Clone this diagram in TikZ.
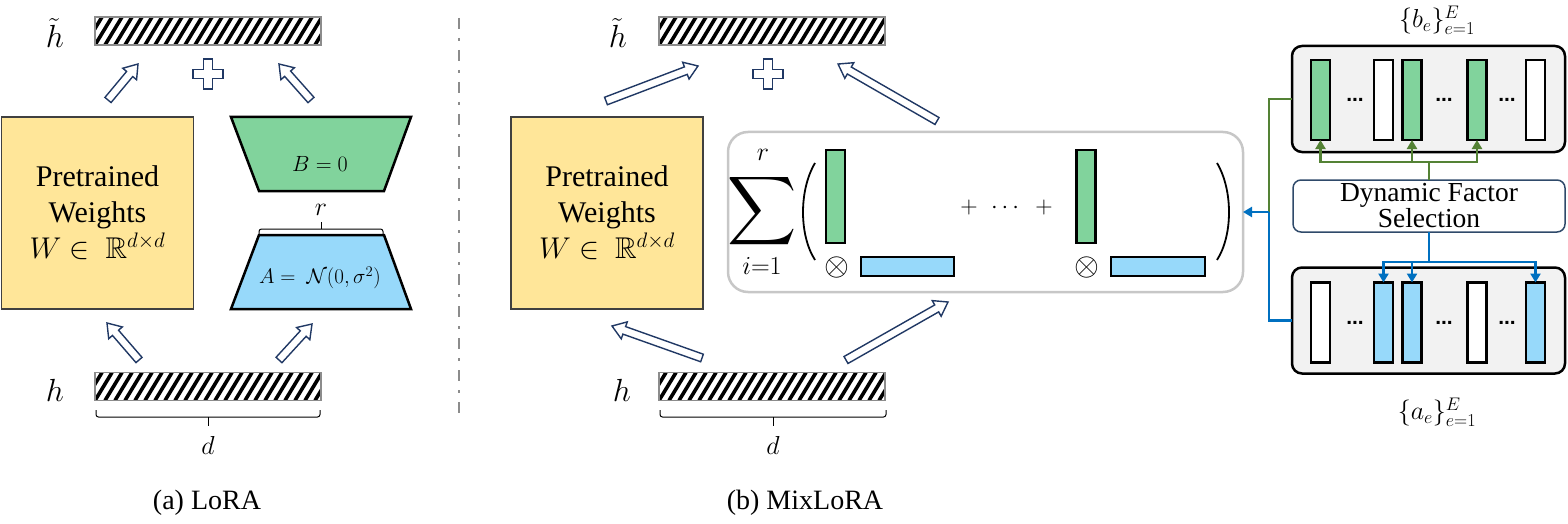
\RequirePackage{fix-cm}
\documentclass[tikz,border=0pt]{standalone}
\usepackage{amsmath,amssymb}
\usepackage{fontspec}
\setmainfont{Liberation Serif}
\newfontfamily\serifmain{Liberation Serif}
\newfontfamily\sansbold{Liberation Sans}
\usetikzlibrary{calc,arrows.meta}
\definecolor{yfill}{HTML}{FFE699}
\definecolor{gfill}{HTML}{81D39C}
\definecolor{bfill}{HTML}{97D9FA}
\definecolor{navy}{HTML}{203864}
\definecolor{gline}{HTML}{548235}
\definecolor{bline}{HTML}{0070C0}
\definecolor{dfsline}{HTML}{2F4A6A}
\newcommand\harrow[2]{%
  \path let \p1=($(#2)-(#1)$), \n1={atan2(\y1,\x1)}, \n2={veclen(\x1,\y1)} in \pgfextra{\xdef\hang{\n1}\xdef\hlen{\n2}};
  \filldraw[harrowstyle, shift={(#1)}, rotate=\hang] (0,4) -- ({\hlen-13},4) -- ({\hlen-13},9) -- (\hlen,0) -- ({\hlen-13},-9) -- ({\hlen-13},-4) -- (0,-4) -- cycle;
}
\newcommand\hplus[1]{%
  \filldraw[harrowstyle, shift={(#1)}] (-4.5,-15) -- (4.5,-15) -- (4.5,-4.5) -- (15,-4.5) -- (15,4.5) -- (4.5,4.5) -- (4.5,15) -- (-4.5,15) -- (-4.5,4.5) -- (-15,4.5) -- (-15,-4.5) -- (-4.5,-4.5) -- cycle;
}
\begin{document}
\begin{tikzpicture}[x=1pt,y=-1pt,
  every node/.style={inner sep=0pt, outer sep=0pt},
  ybox/.style={draw=black!75, line width=1.5pt, fill=yfill, minimum width=192pt, minimum height=192pt, align=center, font=\serifmain\fontsize{30}{36}\selectfont},
  hbar/.style={draw=black!45, line width=1.6pt, fill=white, minimum width=226pt, minimum height=28pt,
    path picture={\foreach \i in {-3,...,23} {\draw[black, line width=3.6pt] ([xshift={\i*10pt}]path picture bounding box.south west) -- ++(17pt,28pt);}}},
  harrowstyle/.style={draw=navy, line width=1.4pt, fill=white, line join=miter},
  trap/.style={draw=black, line width=2.5pt, line join=miter},
  bracestyle/.style={draw=black, line width=1pt, rounded corners=2.5pt},
  lbl/.style={font=\fontsize{32}{38}\selectfont},
  mlbl/.style={font=\fontsize{26}{30}\selectfont},
  captxt/.style={font=\serifmain\fontsize{28}{32}\selectfont},
  sbar/.style={draw=black, line width=2.2pt},
  ebox/.style={draw=black, line width=2.5pt, rounded corners=10pt, fill=gray!10, minimum width=273pt, minimum height=106pt},
  ebar/.style={draw=black, line width=2.5pt, minimum width=19pt, minimum height=80pt},
  edots/.style={font=\sansbold\bfseries\fontsize{21}{24}\selectfont},
  arrtip/.style={-{Triangle[length=9pt,width=10pt]}},
]
\useasboundingbox (0,0) rectangle (1568,524);

%% ---------------- (a) LoRA ----------------
\node[hbar] (lht) at (208,31) {};
\node[lbl] (lhtl) at (55,33) {$\tilde{h}$};
\node[hbar] (lh) at (208,386.5) {};
\node[lbl] (lhl) at (55,390) {$h$};
\node[ybox] (lw) at (97.5,213) {Pretrained\\Weights\\$W \in\ \mathbb{R}^{d\times d}$};

\draw[trap, fill=gfill] (231,117) -- (411,117) -- (384,191) -- (259,191) -- cycle;
\node[font=\fontsize{22}{26}\selectfont] (lB) at (320,164) {$B = 0$};
\draw[trap, fill=bfill] (259,235) -- (384,235) -- (411,309) -- (231,309) -- cycle;
\node[font=\fontsize{21}{26}\selectfont] (lA) at (320,278) {$A =\ \mathcal{N}(0,\sigma^2)$};

\draw[bracestyle] (259,236) -- (259,229) -- (383,229) -- (383,236);
\draw[line width=1pt] (321,229) -- (321,222);
\node[mlbl] (lr) at (321,210) {$r$};
\draw[bracestyle] (96,410) -- (96,417) -- (320,417) -- (320,410);
\draw[line width=1pt] (208,417) -- (208,426);
\node[mlbl] (ld) at (208,445) {$d$};

\coordinate (a1s) at (108,100); \coordinate (a1e) at (138,64);
\coordinate (a2s) at (311,100); \coordinate (a2e) at (279,64);
\coordinate (a3s) at (139,360); \coordinate (a3e) at (107,323);
\coordinate (a4s) at (279,360); \coordinate (a4e) at (312,324);
\harrow{a1s}{a1e}
\harrow{a2s}{a2e}
\harrow{a3s}{a3e}
\harrow{a4s}{a4e}
\coordinate (lplus) at (208,74);
\hplus{lplus}

\node[captxt] (capa) at (207,503) {(a) LoRA};

%% divider
\draw[draw=black!45, line width=2.5pt, dash pattern=on 11pt off 9pt on 3pt off 9pt] (459,18) -- (459,417);

%% ---------------- (b) MixLoRA ----------------
\node[hbar] (mht) at (772,31) {};
\node[lbl] (mhtl) at (618,33) {$\tilde{h}$};
\node[hbar] (mh) at (772,386.5) {};
\node[lbl] (mhl) at (622,390) {$h$};
\node[ybox] (mw) at (607,213) {Pretrained\\Weights\\$W \in\ \mathbb{R}^{d\times d}$};
\draw[bracestyle] (660,410) -- (660,417) -- (886,417) -- (886,410);
\draw[line width=1pt] (773,417) -- (773,426);
\node[mlbl] (md) at (773,445) {$d$};

\coordinate (a5s) at (606,101); \coordinate (a5e) at (698,66);
\coordinate (a6s) at (937,121); \coordinate (a6e) at (838,64);
\coordinate (a7s) at (702,358); \coordinate (a7e) at (612,326);
\coordinate (a8s) at (846,360); \coordinate (a8e) at (948,302);
\harrow{a5s}{a5e}
\harrow{a6s}{a6e}
\harrow{a7s}{a7e}
\harrow{a8s}{a8e}
\coordinate (mplus) at (768,74);
\hplus{mplus}

\node[draw=black!22, line width=2.5pt, rounded corners=20pt, minimum width=515pt, minimum height=160pt] (sumbox) at (985.5,212) {};
\node[font=\fontsize{48}{50}\selectfont] (sig) at (762,211) {$\displaystyle\sum$};
\node[font=\fontsize{26}{30}\selectfont] (sigr) at (763,155) {$r$};
\node[font=\fontsize{26}{30}\selectfont] (sigi) at (762,266) {$i{=}1$};
\draw[line width=1.8pt] (815,163) .. controls (799,190) and (799,235) .. (815,260);
\draw[line width=1.8pt] (1217,163) .. controls (1233,190) and (1233,235) .. (1217,260);
\node[sbar, fill=gfill, minimum width=19pt, minimum height=93pt] (g1) at (835.5,196.5) {};
\node[sbar, fill=bfill, minimum width=93pt, minimum height=19pt] (b1) at (907.5,266.5) {};
\node[font=\fontsize{32}{36}\selectfont] (o1) at (837,267) {$\otimes$};
\node[sbar, fill=gfill, minimum width=19pt, minimum height=93pt] (g2) at (1086,196.5) {};
\node[sbar, fill=bfill, minimum width=94pt, minimum height=19pt] (b2) at (1158,266.5) {};
\node[font=\fontsize{32}{36}\selectfont] (o2) at (1087,267) {$\otimes$};
\node[font=\fontsize{24}{28}\selectfont] (p1) at (969,208) {$+$};
\node[font=\fontsize{24}{28}\selectfont] (pd) at (1007,208) {$\cdots$};
\node[font=\fontsize{24}{28}\selectfont] (p2) at (1044,208) {$+$};

\node[captxt] (capb) at (805,503) {(b) MixLoRA};

%% ---------------- expert factors ----------------
\node[font=\fontsize{26}{30}\selectfont] (blbl) at (1437,20) {$\{b_e\}_{e=1}^{E}$};
\node[ebox] (topbox) at (1428.5,99) {};
\node[ebar, fill=gfill] (tb1) at (1320.5,100) {};
\node[ebar, fill=white] (tb2) at (1383.5,100) {};
\node[ebar, fill=gfill] (tb3) at (1412,100) {};
\node[ebar, fill=gfill] (tb4) at (1477,100) {};
\node[ebar, fill=white] (tb5) at (1535.5,100) {};
\node[edots] (td1) at (1355,100) {...};
\node[edots] (td2) at (1444,100) {...};
\node[edots] (td3) at (1507,100) {...};

\node[draw=dfsline, line width=1.5pt, rounded corners=8pt, minimum width=272pt, minimum height=52pt, align=center, font=\serifmain\fontsize{27.5}{25}\selectfont] (dfs) at (1429,206) {Dynamic Factor\\Selection};

\node[ebox] (botbox) at (1428.5,320.5) {};
\node[ebar, fill=white] (bb1) at (1320.5,322.5) {};
\node[ebar, fill=bfill] (bb2) at (1383.5,322.5) {};
\node[ebar, fill=bfill] (bb3) at (1412,322.5) {};
\node[ebar, fill=white] (bb4) at (1477,322.5) {};
\node[ebar, fill=bfill] (bb5) at (1535.5,322.5) {};
\node[edots] (bd1) at (1355,322.5) {...};
\node[edots] (bd2) at (1444,322.5) {...};
\node[edots] (bd3) at (1507,322.5) {...};
\node[font=\fontsize{26}{30}\selectfont] (albl) at (1437,412) {$\{a_e\}_{e=1}^{E}$};

\draw[gline, line width=2.2pt, arrtip] (dfs.north) -- ++(0,-18) -| (tb1.south);
\draw[gline, line width=2.2pt, arrtip] (dfs.north) -- ++(0,-18) -| (tb3.south);
\draw[gline, line width=2.2pt, arrtip] (dfs.north) -- ++(0,-18) -| (tb4.south);
\draw[bline, line width=2.2pt, arrtip] (dfs.south) -- ++(0,30) -| (bb2.north);
\draw[bline, line width=2.2pt, arrtip] (dfs.south) -- ++(0,30) -| (bb3.north);
\draw[bline, line width=2.2pt, arrtip] (dfs.south) -- ++(0,30) -| (bb5.north);

\coordinate (junc) at (1269,212);
\draw[gline, line width=2.2pt] (topbox.west) -| (junc);
\draw[bline, line width=2.2pt] (botbox.west) -| (junc);
\draw[bline, line width=2.2pt, arrtip] (junc) -- (sumbox.east);
\end{tikzpicture}
\end{document}
